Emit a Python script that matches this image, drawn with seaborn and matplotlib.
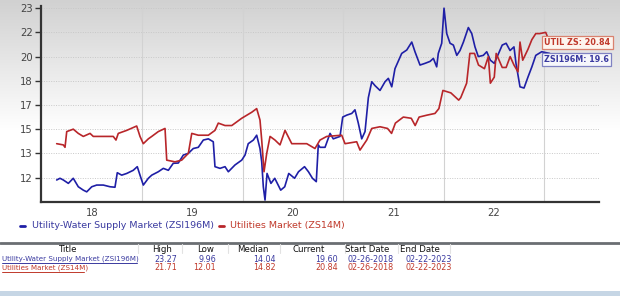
import numpy as np
import pandas as pd
import matplotlib
matplotlib.use("Agg")
import matplotlib.pyplot as plt
import seaborn as sns
from matplotlib.lines import Line2D

# ---------------- data (decimal years, index values) ----------------
water_x = [2018.151, 2018.184, 2018.217, 2018.267, 2018.316, 2018.366, 2018.416, 2018.450,
           2018.500, 2018.549, 2018.615, 2018.682, 2018.731, 2018.754, 2018.798, 2018.848,
           2018.913, 2018.953, 2018.980, 2019.013, 2019.063, 2019.097, 2019.162, 2019.212,
           2019.262, 2019.311, 2019.361, 2019.411, 2019.461, 2019.510, 2019.560, 2019.610,
           2019.660, 2019.709, 2019.726, 2019.776, 2019.826, 2019.859, 2019.925, 2019.992,
           2020.025, 2020.057, 2020.108, 2020.141, 2020.174, 2020.191, 2020.207, 2020.224,
           2020.244, 2020.283, 2020.321, 2020.380, 2020.420, 2020.460, 2020.518, 2020.557,
           2020.617, 2020.656, 2020.696, 2020.734, 2020.754, 2020.771, 2020.821, 2020.871,
           2020.903, 2020.970, 2020.997, 2021.037, 2021.087, 2021.119, 2021.152, 2021.186,
           2021.219, 2021.252, 2021.286, 2021.318, 2021.368, 2021.418, 2021.451, 2021.485,
           2021.517, 2021.584, 2021.634, 2021.684, 2021.716, 2021.766, 2021.816, 2021.866,
           2021.899, 2021.932, 2021.948, 2021.982, 2022.005, 2022.032, 2022.065, 2022.098,
           2022.132, 2022.164, 2022.198, 2022.247, 2022.281, 2022.313, 2022.346, 2022.396,
           2022.430, 2022.466, 2022.505, 2022.584, 2022.623, 2022.662, 2022.701, 2022.721,
           2022.761, 2022.801, 2022.840, 2022.879, 2022.918, 2022.977, 2023.056, 2023.116]
water_y = [11.90, 11.97, 11.90, 11.76, 11.97, 11.62, 11.48, 11.41,
           11.62, 11.69, 11.69, 11.62, 11.60, 12.20, 12.10, 12.17,
           12.30, 12.45, 12.10, 11.69, 11.97, 12.10, 12.24, 12.38,
           12.30, 12.59, 12.60, 12.93, 13.00, 13.40, 13.50, 14.10,
           14.20, 13.96, 12.45, 12.38, 12.45, 12.24, 12.52, 12.72,
           12.93, 13.80, 14.10, 14.50, 13.40, 12.65, 11.62, 11.07,
           12.17, 11.76, 11.97, 11.48, 11.62, 12.17, 11.97, 12.24,
           12.45, 12.24, 11.97, 11.83, 13.70, 13.50, 13.50, 14.65,
           14.20, 14.40, 16.00, 16.16, 16.30, 16.60, 15.50, 14.20,
           14.80, 17.30, 17.96, 17.80, 17.60, 17.96, 18.20, 17.75,
           19.00, 20.26, 20.54, 21.20, 20.40, 19.30, 19.44, 19.60,
           19.85, 19.15, 20.26, 21.10, 23.00, 21.90, 21.10, 20.95,
           20.10, 20.50, 21.20, 22.20, 21.90, 20.80, 20.00, 20.10,
           20.40, 19.70, 19.44, 20.95, 21.10, 20.50, 20.80, 19.44,
           17.75, 17.70, 18.30, 19.15, 20.10, 20.40, 20.26, 19.60]

util_x = [2018.151, 2018.217, 2018.234, 2018.251, 2018.316, 2018.366, 2018.416, 2018.483,
          2018.515, 2018.714, 2018.741, 2018.764, 2018.848, 2018.947, 2018.980, 2019.013,
          2019.063, 2019.097, 2019.162, 2019.229, 2019.246, 2019.328, 2019.395, 2019.461,
          2019.495, 2019.560, 2019.660, 2019.726, 2019.759, 2019.826, 2019.893, 2019.992,
          2020.092, 2020.141, 2020.174, 2020.191, 2020.214, 2020.241, 2020.274, 2020.323,
          2020.373, 2020.423, 2020.490, 2020.639, 2020.721, 2020.771, 2020.838, 2020.987,
          2021.020, 2021.136, 2021.169, 2021.236, 2021.286, 2021.368, 2021.443, 2021.483,
          2021.521, 2021.600, 2021.679, 2021.718, 2021.757, 2021.836, 2021.915, 2021.954,
          2021.994, 2022.073, 2022.151, 2022.171, 2022.230, 2022.262, 2022.308, 2022.348,
          2022.407, 2022.446, 2022.466, 2022.505, 2022.524, 2022.584, 2022.623, 2022.663,
          2022.701, 2022.741, 2022.761, 2022.788, 2022.840, 2022.879, 2022.918, 2022.957,
          2023.017, 2023.036, 2023.116]
util_y = [13.80, 13.70, 13.50, 14.80, 15.00, 14.65, 14.40, 14.65,
          14.40, 14.40, 14.10, 14.65, 14.90, 15.26, 14.40, 13.80,
          14.20, 14.40, 14.80, 15.06, 12.72, 12.65, 12.72, 13.00,
          14.65, 14.50, 14.50, 14.90, 15.50, 15.30, 15.30, 15.90,
          16.40, 16.70, 15.75, 14.10, 12.24, 13.00, 14.40, 14.10,
          13.70, 14.90, 13.80, 13.80, 13.40, 14.10, 14.40, 14.50,
          13.80, 13.96, 13.27, 14.10, 15.06, 15.20, 15.06, 14.65,
          15.50, 16.00, 15.90, 15.30, 16.00, 16.16, 16.30, 16.70,
          17.60, 17.50, 17.20, 17.30, 17.90, 20.26, 20.26, 19.30,
          19.00, 20.00, 17.90, 18.30, 20.26, 19.10, 19.10, 20.00,
          19.30, 18.74, 21.20, 19.70, 20.60, 21.40, 21.90, 21.90,
          22.00, 21.60, 21.00]

ytick_vals = [12, 13, 15, 17, 18, 20, 22, 23]
xtick_pos = [2018.5, 2019.5, 2020.5, 2021.5, 2022.5]
xtick_labels = ["18", "19", "20", "21", "22"]
year_lines = [2019, 2020, 2021, 2022, 2023]

water_name = "Utility-Water Supply Market (ZSI196M)"
util_name = "Utilities Market (ZS14M)"
table_header = ["Title", "High", "Low", "Median", "Current", "Start Date", "End Date"]
water_row = ["23.27", "9.96", "14.04", "19.60", "02-26-2018", "02-22-2023"]
util_row = ["21.71", "12.01", "14.82", "20.84", "02-26-2018", "02-22-2023"]
util_tag = "UTIL ZS: 20.84"
water_tag = "ZSI196M: 19.6"

BLUE = "#1f1fa6"
RED = "#b8262a"
BLUE_T = "#3a3aa0"
RED_T = "#c0392b"

# ---------------- scale (equally spaced labelled ticks) ----------------
tick_idx = np.arange(len(ytick_vals), dtype=float)
tv = np.array(ytick_vals, dtype=float)


def fwd(v):
    v = np.asarray(v, dtype=float)
    out = np.interp(v, tv, tick_idx)
    out = np.where(v < tv[0], (v - tv[0]) / (tv[1] - tv[0]), out)
    out = np.where(v > tv[-1], tick_idx[-1] + (v - tv[-1]) / (tv[-1] - tv[-2]), out)
    return out


def inv(i):
    i = np.asarray(i, dtype=float)
    out = np.interp(i, tick_idx, tv)
    out = np.where(i < 0, tv[0] + i * (tv[1] - tv[0]), out)
    out = np.where(i > tick_idx[-1], tv[-1] + (i - tick_idx[-1]) * (tv[-1] - tv[-2]), out)
    return out


sns.set_style("white")
plt.rcParams["font.family"] = ["DejaVu Sans"]

W, H = 620, 296
fig = plt.figure(figsize=(W / 100, H / 100), dpi=100)

# background gradient
img = np.ones((H, W, 3))
for r in range(H):
    if r < 130:
        t = r / 130.0
        g = 0.82 + 0.18 * t
        img[r, :, :] = g
bandc = np.array([0.78, 0.84, 0.90])
img[291:, :, :] = bandc
bg = fig.add_axes([0, 0, 1, 1], zorder=0)
bg.imshow(img, extent=[0, W, H, 0], aspect="auto")
bg.set_xlim(0, W)
bg.set_ylim(H, 0)
bg.axis("off")


def fx(px):
    return px / W


def fy(py):
    return 1 - py / H


ax = fig.add_axes([fx(41), fy(202), (599 - 41) / W, (202 - 6) / H], zorder=2)
ax.set_facecolor("none")

df = pd.concat([
    pd.DataFrame({"date": water_x, "value": water_y, "series": water_name}),
    pd.DataFrame({"date": util_x, "value": util_y, "series": util_name}),
])
sns.lineplot(data=df, x="date", y="value", hue="series",
             palette={water_name: BLUE, util_name: RED},
             hue_order=[water_name, util_name], estimator=None, sort=False,
             linewidth=1.2, legend=False, ax=ax)

ax.set_yscale("function", functions=(fwd, inv))
ax.set_ylim(inv(-1.01), inv(7.09))
ax.set_xlim(2017.995, 2023.547)
ax.set_yticks(ytick_vals)
ax.set_yticklabels([str(v) for v in ytick_vals])
ax.yaxis.set_minor_locator(matplotlib.ticker.NullLocator())
ax.set_xticks(xtick_pos)
ax.set_xticklabels(xtick_labels)
ax.set_xlabel("")
ax.set_ylabel("")
for v in ytick_vals:
    ax.axhline(v, color="#c8c8c8", lw=0.7, ls=(0, (1, 1.5)), zorder=0)
for yl in year_lines:
    ax.axvline(yl, color="#d2d2d2", lw=0.8, zorder=0)
for s in ["top", "right"]:
    ax.spines[s].set_visible(False)
for s in ["left", "bottom"]:
    ax.spines[s].set_color("#333333")
    ax.spines[s].set_linewidth(1.6)
ax.tick_params(axis="y", which="major", length=4, width=1, color="#333333",
               direction="out", labelsize=7.2, labelcolor="#444444", pad=2, left=True)
ax.tick_params(axis="x", which="major", length=0, labelsize=7.2,
               labelcolor="#444444", pad=4)

# end tags
fig.text(fx(544), fy(42.5), util_tag, color=RED_T, fontsize=5.8, fontweight="bold",
         va="center", ha="left", zorder=5,
         bbox=dict(boxstyle="square,pad=0.3", fc="#fdf5ee", ec="#d9826f", lw=0.9))
fig.text(fx(544), fy(59.5), water_tag, color=BLUE_T, fontsize=5.8, fontweight="bold",
         va="center", ha="left", zorder=5,
         bbox=dict(boxstyle="square,pad=0.3", fc="#f6f7fb", ec="#7f82c2", lw=0.9))

# legend
fig.lines.append(Line2D([fx(20), fx(25)], [fy(225.5), fy(225.5)], color=BLUE, lw=2,
                        transform=fig.transFigure))
fig.text(fx(32), fy(225.5), water_name, color=BLUE_T, fontsize=6.8, va="center", ha="left")
fig.lines.append(Line2D([fx(219), fx(224)], [fy(225.5), fy(225.5)], color=RED, lw=2,
                        transform=fig.transFigure))
fig.text(fx(230), fy(225.5), util_name, color=RED_T, fontsize=6.8, va="center", ha="left")

# table
fig.lines.append(Line2D([0, 1], [fy(243), fy(243)], color="#6a6e72", lw=2,
                        transform=fig.transFigure))
for xs in [138, 182, 228, 280, 345, 398, 450]:
    fig.lines.append(Line2D([fx(xs), fx(xs)], [fy(244), fy(253)], color="#e2e2e2",
                            lw=0.8, transform=fig.transFigure))
head_x = [68, 162, 206, 253, 309, 367, 420]
for h, hx in zip(table_header, head_x):
    fig.text(fx(hx), fy(249), h, fontsize=6.2, ha="center", va="center",
             color="#111111")
val_x = [177, 216, 276, 338, 394, 452]
for row, ry, col in [(water_row, 259, BLUE_T), (util_row, 267.5, RED_T)]:
    for v, vx in zip(row, val_x):
        fig.text(fx(vx), fy(ry), v, fontsize=5.8, ha="right", va="center", color=col)
fig.text(fx(2), fy(259), water_name, fontsize=5.1, ha="left", va="center", color=BLUE_T)
fig.text(fx(2), fy(267.5), util_name, fontsize=5.1, ha="left", va="center", color=RED_T)
fig.lines.append(Line2D([fx(2), fx(137)], [fy(263), fy(263)], color=BLUE_T, lw=0.7,
                        transform=fig.transFigure))
fig.lines.append(Line2D([fx(2), fx(84)], [fy(271.5), fy(271.5)], color=RED_T, lw=0.7,
                        transform=fig.transFigure))

fig.savefig("out.png", dpi=100)
